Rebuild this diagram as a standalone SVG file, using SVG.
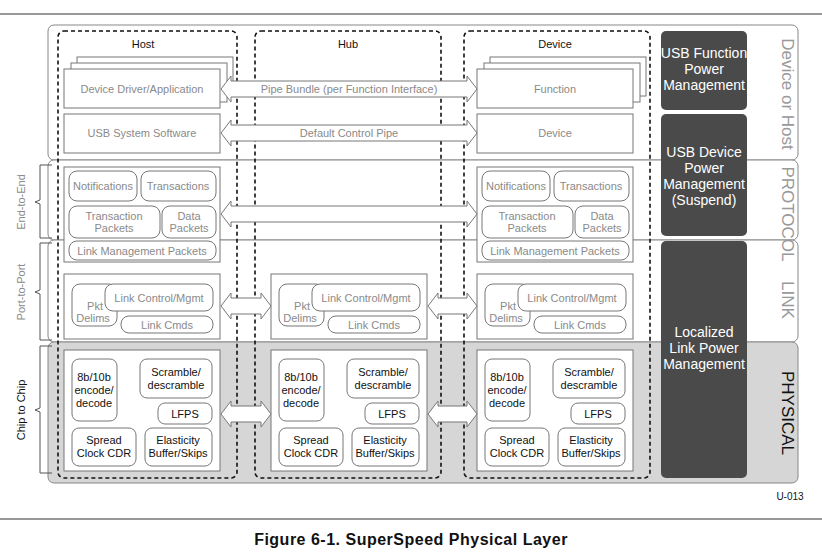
<svg xmlns="http://www.w3.org/2000/svg" width="822" height="558" viewBox="0 0 822 558">
<style>
text{font-family:"Liberation Sans",Arial,sans-serif;font-size:11px;text-anchor:middle}
.g{fill:#8a8a8a}
.k{fill:#111}
.band{fill:#fff;stroke:#888;stroke-width:1}
.box{fill:#fff;stroke:#777;stroke-width:1}
.rb{fill:#fff;stroke:#777;stroke-width:1}
.dash{fill:none;stroke:#111;stroke-width:1.6;stroke-dasharray:4,3}
.arr{fill:#fff;stroke:#777;stroke-width:1}
.dark{fill:#4a4a4a}
.w{fill:#fff;font-size:14px}
.side{fill:#999;font-size:17px}
.brace{fill:none;stroke:#555;stroke-width:1}
</style>
<line x1="0" y1="14" x2="822" y2="14" stroke="#333"/>
<line x1="0" y1="519" x2="822" y2="519" stroke="#333"/>
<g id="bands">
<rect class="band" x="48" y="25" width="750" height="135" rx="6"/>
<rect class="band" x="48" y="160" width="750" height="80" rx="6"/>
<rect class="band" x="48" y="240" width="750" height="102" rx="6"/>
<rect x="48" y="342" width="750" height="141" rx="6" fill="#d6d6d6" stroke="#888"/>
<text class="side" transform="translate(782,94) rotate(90)">Device or Host</text>
<text class="side" transform="translate(782,214) rotate(90)">PROTOCOL</text>
<text class="side" transform="translate(782,300) rotate(90)">LINK</text>
<text class="k" style="font-size:17px" transform="translate(782,413) rotate(90)">PHYSICAL</text>
</g>
<g id="braces">
<path class="brace" d="M52,165 H40 V200 L35,202 L40,204 V238 H52"/>
<text class="g" transform="translate(25,202) rotate(-90)">End-to-End</text>
<path class="brace" d="M52,243 H40 V290 L35,292 L40,294 V340 H52"/>
<text class="g" transform="translate(25,292) rotate(-90)">Port-to-Port</text>
<path class="brace" d="M52,346 H40 V408 L35,410 L40,412 V473 H52"/>
<text class="k" transform="translate(25,410) rotate(-90)">Chip to Chip</text>
</g>
<g id="pm">
<rect class="dark" x="661" y="31" width="86" height="79" rx="5"/>
<text class="w" x="704" y="58">USB Function</text><text class="w" x="704" y="74">Power</text><text class="w" x="704" y="90">Management</text>
<rect class="dark" x="661" y="114" width="86" height="122" rx="5"/>
<text class="w" x="704" y="157">USB Device</text><text class="w" x="704" y="173">Power</text><text class="w" x="704" y="189">Management</text><text class="w" x="704" y="205">(Suspend)</text>
<rect class="dark" x="661" y="241" width="86" height="237" rx="5"/>
<text class="w" x="704" y="337">Localized</text><text class="w" x="704" y="353">Link Power</text><text class="w" x="704" y="369">Management</text>
</g>
<g id="host">
<rect class="dash" x="58" y="31" width="179" height="447" rx="6"/>
<text class="k" x="143" y="48">Host</text>
<rect class="box" x="77" y="57" width="156" height="39"/>
<rect class="box" x="71" y="63" width="156" height="39"/>
<rect class="box" x="64" y="69" width="156" height="39"/>
<text class="g" x="142" y="93">Device Driver/Application</text>
<rect class="box" x="64" y="114" width="156" height="39"/>
<text class="g" x="142" y="137">USB System Software</text>
</g>
<g id="device">
<rect class="dash" x="464" y="31" width="186" height="447" rx="6"/>
<text class="k" x="555" y="48">Device</text>
<rect class="box" x="490" y="57" width="156" height="39"/>
<rect class="box" x="484" y="63" width="156" height="39"/>
<rect class="box" x="477" y="69" width="156" height="39"/>
<text class="g" x="555" y="93">Function</text>
<rect class="box" x="477" y="114" width="156" height="39"/>
<text class="g" x="555" y="137">Device</text>
</g>
<g id="hub">
<rect class="dash" x="255" y="31" width="186" height="447" rx="6"/>
<text class="k" x="348" y="48">Hub</text>
</g>
<g id="protocol-host">
<rect class="box" x="64" y="167" width="156" height="95"/>
<rect class="rb" x="69" y="171" width="68" height="30" rx="8"/><text class="g" x="103" y="190">Notifications</text>
<rect class="rb" x="141" y="171" width="75" height="30" rx="8"/><text class="g" x="178" y="190">Transactions</text>
<rect class="rb" x="69" y="206" width="91" height="32" rx="8"/><text class="g" x="114" y="220">Transaction</text><text class="g" x="114" y="232">Packets</text>
<rect class="rb" x="162" y="206" width="54" height="32" rx="8"/><text class="g" x="189" y="220">Data</text><text class="g" x="189" y="232">Packets</text>
<rect class="rb" x="69" y="241" width="147" height="19" rx="8"/><text class="g" x="142" y="255">Link Management Packets</text>
</g>
<g id="protocol-device">
<rect class="box" x="477" y="167" width="156" height="95"/>
<rect class="rb" x="482" y="171" width="68" height="30" rx="8"/><text class="g" x="516" y="190">Notifications</text>
<rect class="rb" x="554" y="171" width="75" height="30" rx="8"/><text class="g" x="591" y="190">Transactions</text>
<rect class="rb" x="482" y="206" width="91" height="32" rx="8"/><text class="g" x="527" y="220">Transaction</text><text class="g" x="527" y="232">Packets</text>
<rect class="rb" x="575" y="206" width="54" height="32" rx="8"/><text class="g" x="602" y="220">Data</text><text class="g" x="602" y="232">Packets</text>
<rect class="rb" x="482" y="241" width="147" height="19" rx="8"/><text class="g" x="555" y="255">Link Management Packets</text>
</g>
<g id="link-host">
<rect class="box" x="64" y="274" width="156" height="65"/>
<rect class="rb" x="72" y="284" width="45" height="42" rx="8"/>
<rect class="rb" x="105" y="284" width="108" height="27" rx="8"/><text class="g" x="159" y="302">Link Control/Mgmt</text>
<rect class="rb" x="121" y="316" width="92" height="17" rx="8"/><text class="g" x="167" y="329">Link Cmds</text>
<text class="g" x="95" y="310">Pkt</text><text class="g" x="93" y="322">Delims</text>
</g>
<g id="link-hub">
<rect class="box" x="271" y="274" width="156" height="65"/>
<rect class="rb" x="279" y="284" width="45" height="42" rx="8"/>
<rect class="rb" x="312" y="284" width="108" height="27" rx="8"/><text class="g" x="366" y="302">Link Control/Mgmt</text>
<rect class="rb" x="328" y="316" width="92" height="17" rx="8"/><text class="g" x="374" y="329">Link Cmds</text>
<text class="g" x="302" y="310">Pkt</text><text class="g" x="300" y="322">Delims</text>
</g>
<g id="link-device">
<rect class="box" x="477" y="274" width="156" height="65"/>
<rect class="rb" x="485" y="284" width="45" height="42" rx="8"/>
<rect class="rb" x="518" y="284" width="108" height="27" rx="8"/><text class="g" x="572" y="302">Link Control/Mgmt</text>
<rect class="rb" x="534" y="316" width="92" height="17" rx="8"/><text class="g" x="580" y="329">Link Cmds</text>
<text class="g" x="508" y="310">Pkt</text><text class="g" x="506" y="322">Delims</text>
</g>
<g id="phy-host">
<rect class="box" x="64" y="350" width="156" height="121"/>
<rect class="rb" x="72" y="359" width="45" height="62" rx="7"/><text class="k" x="94" y="381">8b/10b</text><text class="k" x="94" y="394">encode/</text><text class="k" x="94" y="407">decode</text>
<rect class="rb" x="140" y="359" width="72" height="39" rx="7"/><text class="k" x="176" y="376">Scramble/</text><text class="k" x="176" y="389">descramble</text>
<rect class="rb" x="158" y="403" width="54" height="21" rx="7"/><text class="k" x="185" y="418">LFPS</text>
<rect class="rb" x="72" y="428" width="64" height="38" rx="7"/><text class="k" x="104" y="444">Spread</text><text class="k" x="104" y="457">Clock CDR</text>
<rect class="rb" x="145" y="428" width="67" height="38" rx="7"/><text class="k" x="178" y="444">Elasticity</text><text class="k" x="178" y="457">Buffer/Skips</text>
</g>
<g id="phy-hub">
<rect class="box" x="271" y="350" width="156" height="121"/>
<rect class="rb" x="279" y="359" width="45" height="62" rx="7"/><text class="k" x="301" y="381">8b/10b</text><text class="k" x="301" y="394">encode/</text><text class="k" x="301" y="407">decode</text>
<rect class="rb" x="347" y="359" width="72" height="39" rx="7"/><text class="k" x="383" y="376">Scramble/</text><text class="k" x="383" y="389">descramble</text>
<rect class="rb" x="365" y="403" width="54" height="21" rx="7"/><text class="k" x="392" y="418">LFPS</text>
<rect class="rb" x="279" y="428" width="64" height="38" rx="7"/><text class="k" x="311" y="444">Spread</text><text class="k" x="311" y="457">Clock CDR</text>
<rect class="rb" x="352" y="428" width="67" height="38" rx="7"/><text class="k" x="385" y="444">Elasticity</text><text class="k" x="385" y="457">Buffer/Skips</text>
</g>
<g id="phy-device">
<rect class="box" x="477" y="350" width="156" height="121"/>
<rect class="rb" x="485" y="359" width="45" height="62" rx="7"/><text class="k" x="507" y="381">8b/10b</text><text class="k" x="507" y="394">encode/</text><text class="k" x="507" y="407">decode</text>
<rect class="rb" x="553" y="359" width="72" height="39" rx="7"/><text class="k" x="589" y="376">Scramble/</text><text class="k" x="589" y="389">descramble</text>
<rect class="rb" x="571" y="403" width="54" height="21" rx="7"/><text class="k" x="598" y="418">LFPS</text>
<rect class="rb" x="485" y="428" width="64" height="38" rx="7"/><text class="k" x="517" y="444">Spread</text><text class="k" x="517" y="457">Clock CDR</text>
<rect class="rb" x="558" y="428" width="67" height="38" rx="7"/><text class="k" x="591" y="444">Elasticity</text><text class="k" x="591" y="457">Buffer/Skips</text>
</g>
<g id="connectors">
<path class="arr" d="M221,89 L231,76 V81 H467 V76 L477,89 L467,102 V97 H231 V102 Z"/>
<text class="g" x="349" y="93">Pipe Bundle (per Function Interface)</text>
<path class="arr" d="M221,133 L231,120 V125 H467 V120 L477,133 L467,146 V141 H231 V146 Z"/>
<text class="g" x="349" y="137">Default Control Pipe</text>
<path class="arr" d="M221,214 L231,201 V206 H467 V201 L477,214 L467,227 V222 H231 V227 Z"/>
<path class="arr" d="M221,306 L231,293 V298 H261 V293 L271,306 L261,319 V314 H231 V319 Z"/>
<path class="arr" d="M428,306 L438,293 V298 H467 V293 L477,306 L467,319 V314 H438 V319 Z"/>
<path class="arr" d="M221,414 L231,401 V406 H261 V401 L271,414 L261,427 V422 H231 V427 Z"/>
<path class="arr" d="M428,414 L438,401 V406 H467 V401 L477,414 L467,427 V422 H438 V427 Z"/>
</g>
<text class="k" x="790" y="500" style="font-size:10px">U-013</text>
<text class="k" x="411" y="545" style="font-size:16px;font-weight:bold;letter-spacing:0.5px">Figure 6-1.  SuperSpeed Physical Layer</text>
</svg>
